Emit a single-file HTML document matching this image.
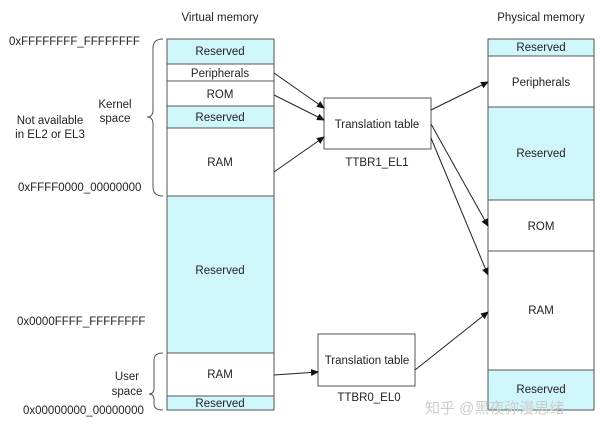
<!DOCTYPE html><html><head><style>body{margin:0;background:#fff}svg{display:block}text{font-family:"Liberation Sans",sans-serif;font-size:11.5px;fill:#222}</style></head><body>
<svg width="600" height="432" viewBox="0 0 600 432" xmlns="http://www.w3.org/2000/svg">
<defs><marker id="a" markerWidth="8" markerHeight="8" refX="7" refY="4" orient="auto" markerUnits="userSpaceOnUse"><path d="M0,0.5L8,4L0,7.5z" fill="#111"/></marker></defs>
<g stroke="#555" stroke-width="1">
<rect x="167" y="39" width="107" height="25" fill="#cff6fa"/>
<rect x="167" y="64" width="107" height="17" fill="#fff"/>
<rect x="167" y="81" width="107" height="25" fill="#fff"/>
<rect x="167" y="106" width="107" height="22" fill="#cff6fa"/>
<rect x="167" y="128" width="107" height="68" fill="#fff"/>
<rect x="167" y="196" width="107" height="157" fill="#cff6fa"/>
<rect x="167" y="353" width="107" height="43" fill="#fff"/>
<rect x="167" y="396" width="107" height="14" fill="#cff6fa"/>
<rect x="488" y="39" width="106" height="17" fill="#cff6fa"/>
<rect x="488" y="56" width="106" height="51" fill="#fff"/>
<rect x="488" y="107" width="106" height="93" fill="#cff6fa"/>
<rect x="488" y="200" width="106" height="51" fill="#fff"/>
<rect x="488" y="251" width="106" height="119" fill="#fff"/>
<rect x="488" y="370" width="106" height="40" fill="#cff6fa"/>
<rect x="324" y="98" width="107" height="51" fill="#fff"/>
<rect x="318" y="334" width="97" height="52" fill="#fff"/>
</g>
<g stroke="#222" stroke-width="1" fill="none" marker-end="url(#a)">
<line x1="274" y1="73" x2="324" y2="108"/>
<line x1="274" y1="95" x2="324" y2="120"/>
<line x1="274" y1="172" x2="324" y2="137"/>
<line x1="431" y1="110" x2="488" y2="82"/>
<line x1="431" y1="124" x2="488" y2="226"/>
<line x1="431" y1="138" x2="488" y2="275"/>
<line x1="274" y1="375" x2="318" y2="372"/>
<line x1="415" y1="370" x2="488" y2="312"/>
</g>
<g stroke="#555" fill="none">
<path d="M163,39 Q153,39 153,48 L153,110 Q153,117 147,117 Q153,117 153,124 L153,187 Q153,196 163,196"/>
<path d="M163,353 Q154,353 154,360 L154,388 Q154,394 149,394 Q154,394 154,400 L154,404 Q154,410 163,410"/>
</g>
<g text-anchor="middle">
<text x="220" y="21">Virtual memory</text>
<text x="541" y="21">Physical memory</text>
<text x="220" y="55">Reserved</text>
<text x="220" y="77">Peripherals</text>
<text x="220" y="98">ROM</text>
<text x="220" y="121">Reserved</text>
<text x="220" y="166">RAM</text>
<text x="220" y="274">Reserved</text>
<text x="220" y="378">RAM</text>
<text x="220" y="407">Reserved</text>
<text x="541" y="51">Reserved</text>
<text x="541" y="86">Peripherals</text>
<text x="541" y="157">Reserved</text>
<text x="541" y="230">ROM</text>
<text x="541" y="314">RAM</text>
<text x="541" y="393">Reserved</text>
<text x="377" y="128">Translation table</text>
<text x="377" y="166">TTBR1_EL1</text>
<text x="367" y="364">Translation table</text>
<text x="369" y="401">TTBR0_EL0</text>
<text x="115" y="108">Kernel</text>
<text x="115" y="122">space</text>
<text x="50" y="124">Not available</text>
<text x="50" y="138">in EL2 or EL3</text>
<text x="127" y="380">User</text>
<text x="127" y="395">space</text>
</g>
<text x="9" y="45">0xFFFFFFFF_FFFFFFFF</text>
<text x="18" y="191">0xFFFF0000_00000000</text>
<text x="17" y="325">0x0000FFFF_FFFFFFFF</text>
<text x="23" y="414">0x00000000_00000000</text>
<text x="425" y="413" style="font-family:'Liberation Sans','Noto Sans CJK SC',sans-serif;font-size:15px;fill:#ccc">知乎 @黑夜弥漫思绪</text>
</svg></body></html>
